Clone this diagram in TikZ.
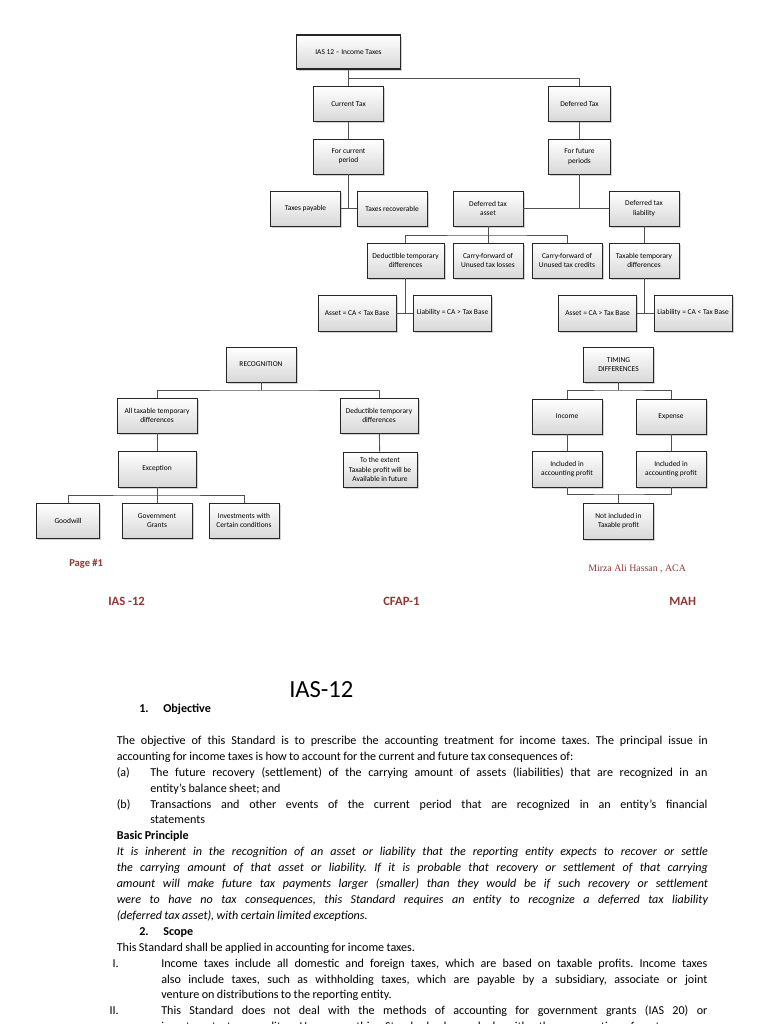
\documentclass[tikz,border=0pt]{standalone}
\usepackage{fontspec}
\setmainfont{Carlito}
\newfontfamily\signfont{Liberation Serif}
\usetikzlibrary{shadows}
\usepackage{xcolor}
\definecolor{mahred}{HTML}{943634}
\definecolor{linkgray}{HTML}{505050}
\definecolor{boxgray}{HTML}{D8D8D8}

% one justified line of the page text
\newcommand{\jline}[2][14.775cm]{\makebox[#1][s]{#2}}
\newcommand{\tightspace}{\spaceskip=.2em plus .4em minus .05em\xspaceskip=\spaceskip\relax}
\frenchspacing

\begin{document}
\begin{tikzpicture}[x=0.025cm, y=-0.025cm,
    box/.style={draw=black!85, line width=0.55pt, top color=white, bottom color=boxgray,
      drop shadow={shadow xshift=1.2pt, shadow yshift=-1.2pt, opacity=0.35},
      minimum width=1.75cm, minimum height=0.875cm, inner sep=1pt, align=center,
      font=\fontsize{5.3}{6.6}\selectfont},
    wide/.style={minimum width=1.95cm, minimum height=0.9cm},
    narrow/.style={minimum width=1.55cm},
    link/.style={draw=linkgray, line width=0.6pt},
    para/.style={anchor=base west, text width=14.775cm, align=left, inner sep=0pt,
      font=\fontsize{8.6}{11.3}\selectfont, execute at begin node=\tightspace},
    plain/.style={anchor=base west, inner sep=0pt, font=\fontsize{8.6}{11.3}\selectfont,
      execute at begin node=\tightspace},
    bold/.style={plain, font=\fontsize{8.6}{11.3}\selectfont\bfseries},
    foot/.style={anchor=base west, inner sep=0pt, text=mahred, font=\fontsize{9}{10}\selectfont\bfseries}]

  \useasboundingbox (0,0) rectangle (768,1024);
  \clip (0,0) rectangle (768,1024);
  \fill[white] (0,0) rectangle (768,1024);

  % chart: current and deferred tax
  \node[box, minimum width=2.6cm, minimum height=0.85cm, line width=1.3pt] (ias) at (348.5,52) {IAS 12 -- Income Taxes};
  \node[box] (cur) at (348.5,104) {Current Tax};
  \node[box, narrow] (def) at (579.5,104) {Deferred Tax};
  \node[box] (curp) at (348.5,156.5) {For current\\period};
  \node[box, narrow] (futp) at (579.5,156.5) {For future\\periods};
  \node[box] (pay) at (305.5,208.5) {Taxes payable};
  \node[box] (recv) at (392,208.5) {Taxes recoverable};
  \node[box] (dta) at (488,208.5) {Deferred tax\\asset};
  \node[box] (dtl) at (644,208.5) {Deferred tax\\liability};
  \node[box, minimum width=1.925cm] (dedt) at (405.5,260.5) {Deductible temporary\\differences};
  \node[box] (loss) at (488,260.5) {Carry-forward of\\Unused tax losses};
  \node[box] (cred) at (567,260.5) {Carry-forward of\\Unused tax credits};
  \node[box] (taxt) at (644,260.5) {Taxable temporary\\differences};
  \node[box, wide] (asa) at (357,313) {Asset = CA < Tax Base};
  \node[box, wide] (lia) at (452.5,313) {Liability = CA > Tax Base};
  \node[box, wide] (asb) at (597.5,313) {Asset = CA > Tax Base};
  \node[box, wide] (lib) at (693,313) {Liability = CA < Tax Base};

  \coordinate (j1) at (348.5,78);
  \coordinate (j2) at (488,235);
  \draw[link] (ias) -- (cur);
  \draw[link] (j1) -| (def.north);
  \draw[link] (cur) -- (curp);
  \draw[link] (def) -- (futp);
  \draw[link] (curp.south) -- (curp.south |- pay.east);
  \draw[link] (pay) -- (recv);
  \draw[link] (futp.south) -- (futp.south |- dta.east);
  \draw[link] (dta) -- (dtl);
  \draw[link] (dta) -- (loss);
  \draw[link] (dedt.north) |- (j2) -| (cred.north);
  \draw[link] (dtl) -- (taxt);
  \draw[link] (dedt.south) -- (dedt.south |- asa.east);
  \draw[link] (asa) -- (lia);
  \draw[link] (taxt.south) -- (taxt.south |- asb.east);
  \draw[link] (asb) -- (lib);

  % chart: recognition
  \node[box] (recog) at (261,364.5) {RECOGNITION};
  \node[box, minimum width=2cm] (alltax) at (157,415.5) {All taxable temporary\\differences};
  \node[box, minimum width=1.95cm] (dedr) at (379,415.5) {Deductible temporary\\differences};
  \node[box, minimum width=1.95cm, minimum height=0.9cm] (exc) at (157,469) {Exception};
  \node[box, minimum width=1.85cm] (extent) at (380,469.5) {To the extent\\Taxable profit will be\\Available in future};
  \node[box, minimum width=1.58cm] (good) at (68,520.5) {Goodwill};
  \node[box] (grant) at (157,520.5) {Government\\Grants};
  \node[box] (invest) at (244,520.5) {Investments with\\Certain conditions};

  \coordinate (j3) at (261,390);
  \coordinate (j4) at (157,495);
  \draw[link] (recog) -- (j3);
  \draw[link] (alltax.north) |- (j3) -| (dedr.north);
  \draw[link] (alltax) -- (exc);
  \draw[link] (dedr) -- (extent);
  \draw[link] (exc) -- (grant);
  \draw[link] (good.north) |- (j4) -| (invest.north);

  % chart: timing differences
  \node[box] (timing) at (618.5,364.5) {TIMING\\DIFFERENCES};
  \node[box] (inc) at (567,416.5) {Income};
  \node[box] (exp) at (671,416.5) {Expense};
  \node[box, minimum height=0.9cm] (inca) at (567,469) {Included in\\accounting profit};
  \node[box, minimum height=0.9cm] (incb) at (671,469) {Included in\\accounting profit};
  \node[box, minimum height=0.9cm] (notinc) at (618.5,521) {Not included in\\Taxable profit};

  \coordinate (j5) at (618.5,390);
  \coordinate (j6) at (618.5,494);
  \draw[link] (timing) -- (j5);
  \draw[link] (inc.north) |- (j5) -| (exp.north);
  \draw[link] (inc) -- (inca);
  \draw[link] (exp) -- (incb);
  \draw[link] (inca.south) |- (j6) -| (incb.south);
  \draw[link] (j6) -- (notinc.north);

  % footer and header
  \node[foot, font=\fontsize{7.5}{9}\selectfont\bfseries] (pg) at (69,566.5) {Page \#1};
  \node[foot, font=\fontsize{7}{8}\signfont] (sign) at (588,571) {Mirza Ali Hassan , ACA};
  \node[foot] (hl) at (108,605) {IAS -12};
  \node[foot] (hc) at (383,605) {CFAP-1};
  \node[foot] (hr) at (669,605) {MAH};

  % text of the page
  \node[anchor=base west, inner sep=0pt, font=\fontsize{17.5}{20}\selectfont] (title) at (289,697.5) {IAS-12};
  \node[bold] (n1) at (139,712.7) {1.};
  \node[bold] (obj) at (163,712.7) {Objective};
  \node[para] (p1) at (116.5,744.5)
    {\jline{The objective of this Standard is to prescribe the accounting treatment for income taxes. The principal issue in}\\
     accounting for income taxes is how to account for the current and future tax consequences of:};
  \node[plain] (la) at (116.5,776.3) {(a)};
  \node[para, text width=13.925cm] (pa) at (150,776.3)
    {\jline[13.925cm]{The future recovery (settlement) of the carrying amount of assets (liabilities) that are recognized in an}\\
     entity's balance sheet; and};
  \node[plain] (lb) at (116.5,808.1) {(b)};
  \node[para, text width=13.925cm] (pb) at (150,808.1)
    {\jline[13.925cm]{Transactions and other events of the current period that are recognized in an entity's financial}\\
     statements};
  \node[bold] (basic) at (116.5,839.9) {Basic Principle};
  \node[para, font=\fontsize{8.6}{11.3}\selectfont\itshape] (p2) at (116.5,855.8)
    {\jline{It is inherent in the recognition of an asset or liability that the reporting entity expects to recover or settle}\\
     \jline{the carrying amount of that asset or liability. If it is probable that recovery or settlement of that carrying}\\
     \jline{amount will make future tax payments larger (smaller) than they would be if such recovery or settlement}\\
     \jline{were to have no tax consequences, this Standard requires an entity to recognize a deferred tax liability}\\
     (deferred tax asset), with certain limited exceptions.};
  \node[bold] (n2) at (139,935.3) {2.};
  \node[bold] (scope) at (163,935.3) {Scope};
  \node[plain] (p3) at (116.5,951.2) {This Standard shall be applied in accounting for income taxes.};
  \node[plain, anchor=base east] (li) at (119,967.1) {I.};
  \node[para, text width=13.65cm] (pi) at (161,967.1)
    {\jline[13.65cm]{Income taxes include all domestic and foreign taxes, which are based on taxable profits. Income taxes}\\
     \jline[13.65cm]{also include taxes, such as withholding taxes, which are payable by a subsidiary, associate or joint}\\
     venture on distributions to the reporting entity.};
  \node[plain, anchor=base east] (lii) at (119,1014.8) {II.};
  \node[para, text width=13.65cm] (pii) at (161,1014.8)
    {\jline[13.65cm]{This Standard does not deal with the methods of accounting for government grants (IAS 20) or}\\
     \jline[13.65cm]{investment tax credits. However, this Standard does deal with the accounting for temporary}};
\end{tikzpicture}
\end{document}
